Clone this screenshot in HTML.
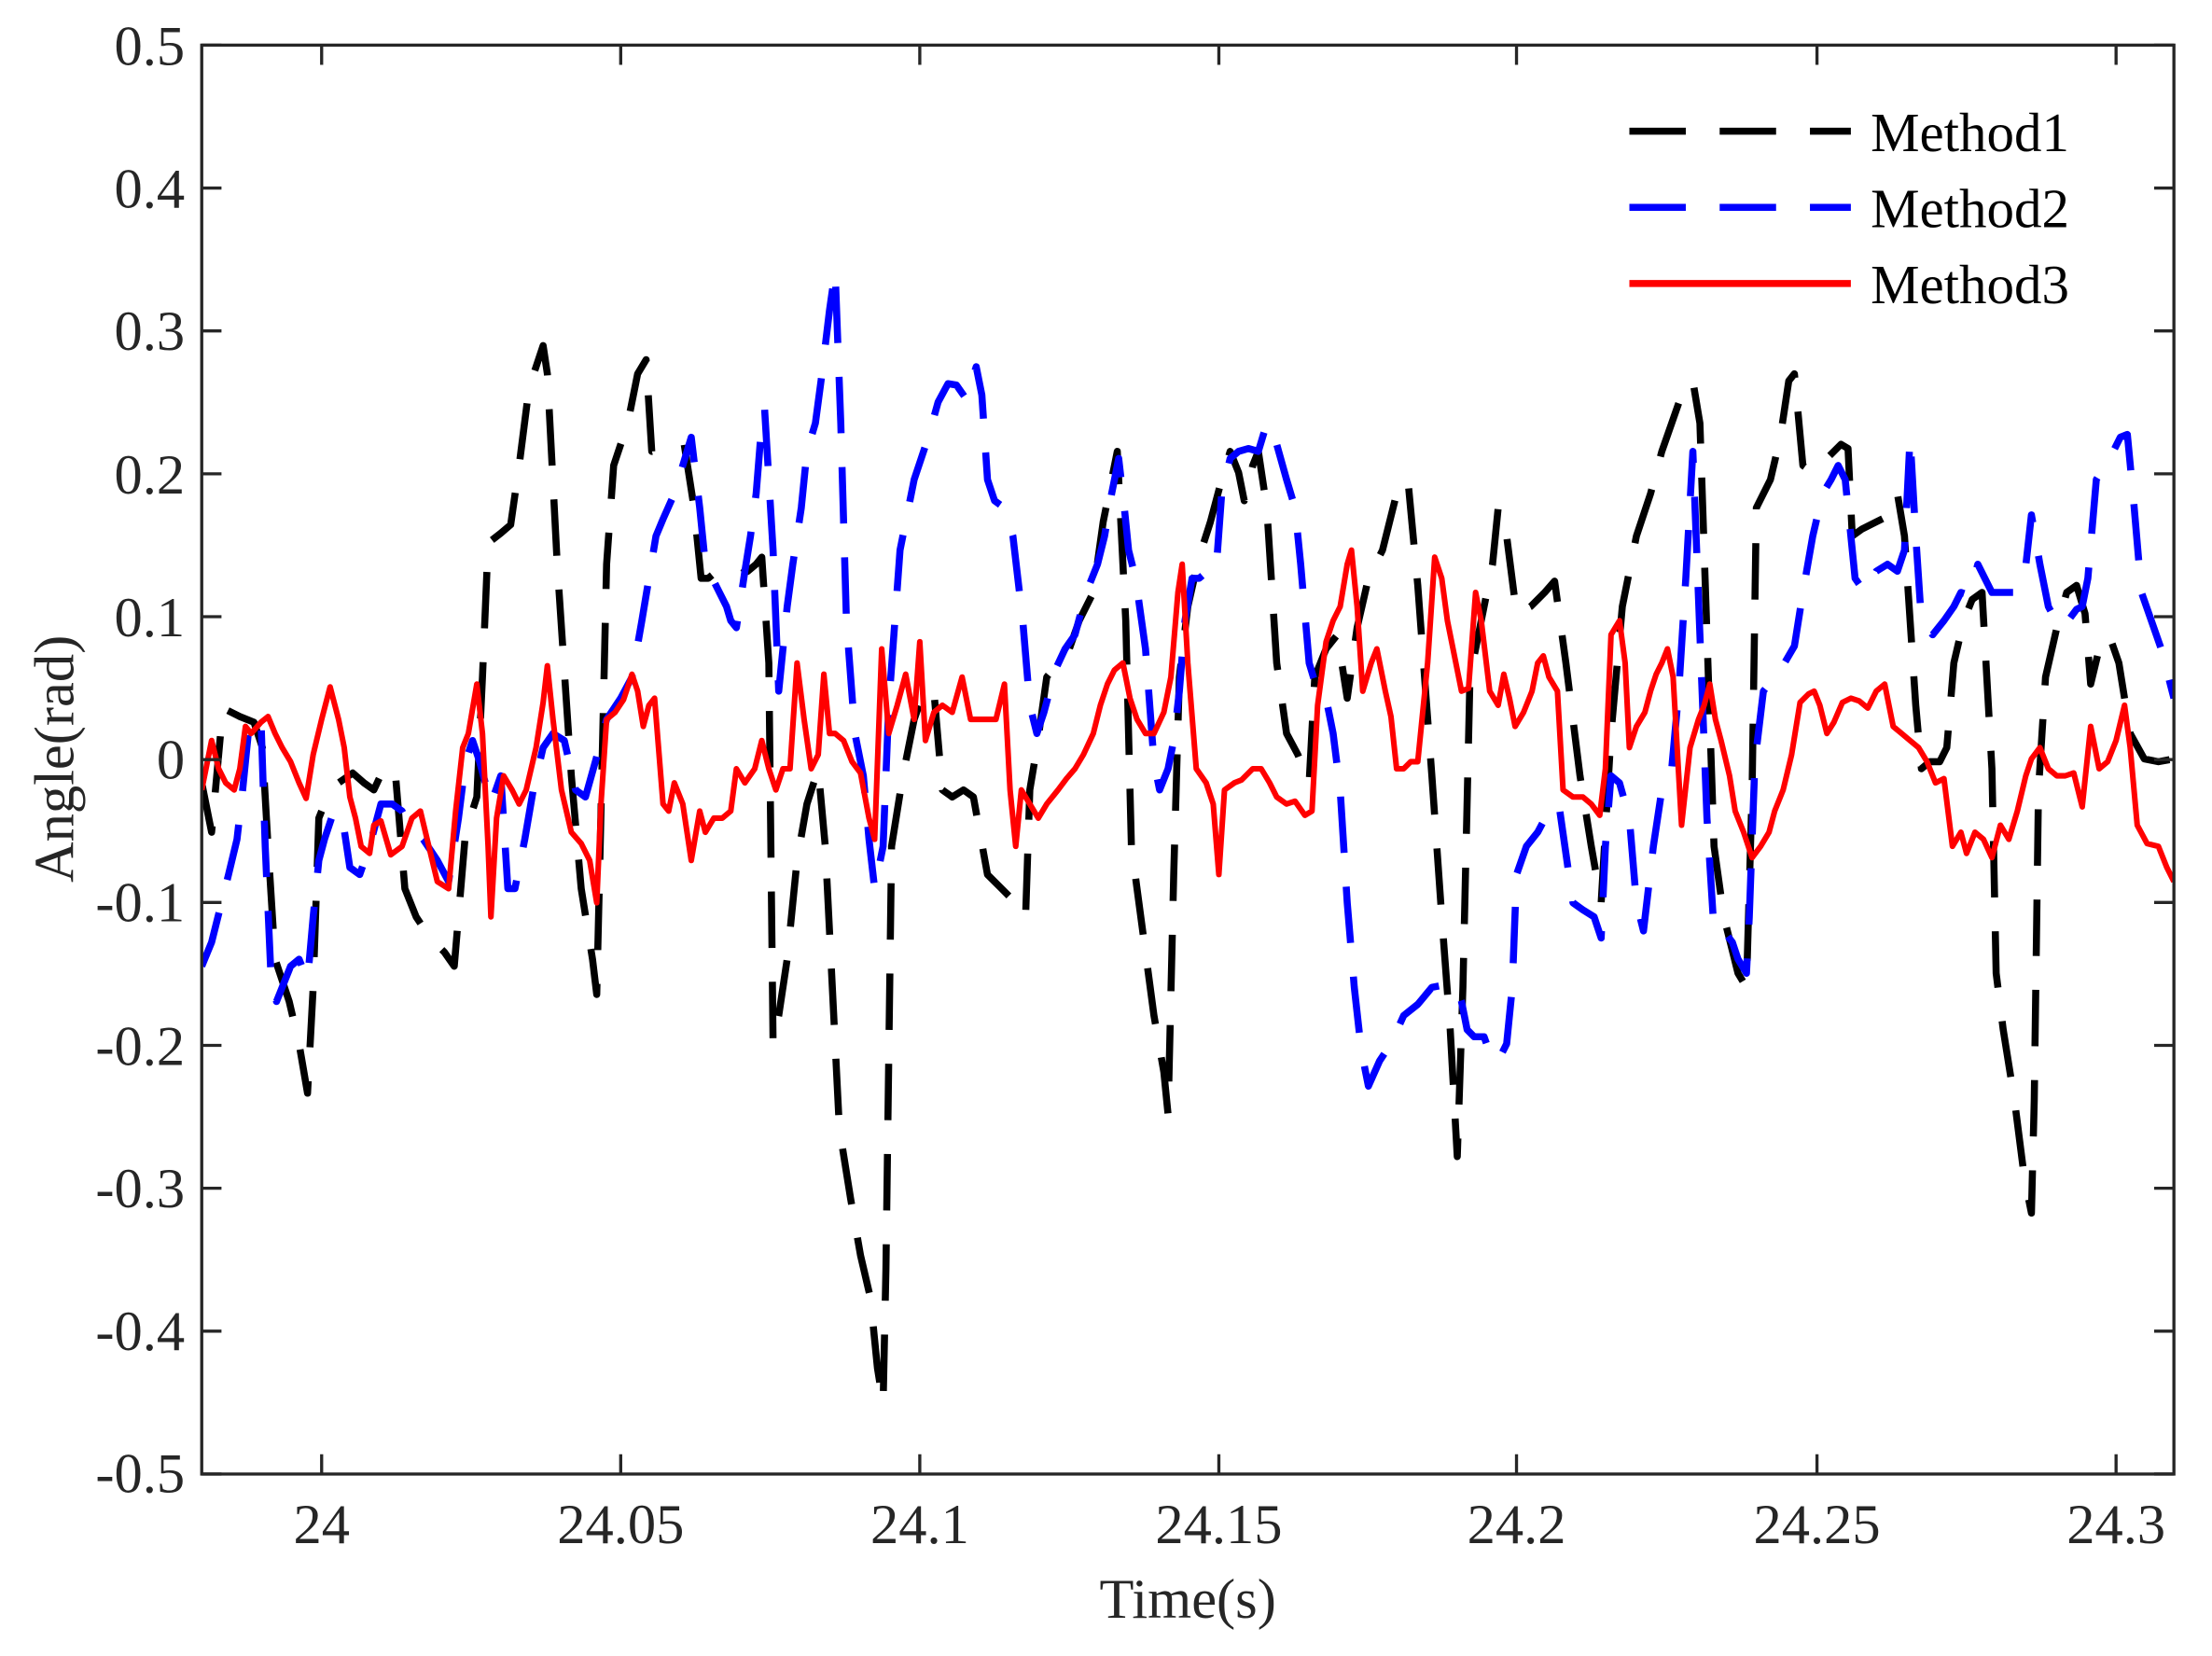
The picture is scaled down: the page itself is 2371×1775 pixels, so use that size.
<!DOCTYPE html>
<html><head><meta charset="utf-8"><style>html,body{margin:0;padding:0;background:#fff}svg{display:block}</style></head>
<body>
<svg width="2371" height="1775" viewBox="0 0 1568 1174" preserveAspectRatio="none" xmlns="http://www.w3.org/2000/svg" font-family="Liberation Serif, serif">
<defs><clipPath id="c"><rect x="143" y="32" width="1398" height="1013"/></clipPath></defs>
<rect width="1568" height="1174" fill="#fff"/>
<g clip-path="url(#c)" fill="none" stroke-width="5" stroke-linejoin="round">
<polyline stroke="#000" stroke-dasharray="40 24" points="143,555 150,590 158,502 170,508 180,512 186,530 190,600 195,680 205,710 212,740 218,775 222,700 226,580 232,565 240,555 250,548 258,555 265,560 272,545 280,545 287,630 295,650 305,665 315,675 322,685 330,590 338,565 342,480 346,385 355,378 362,372 368,330 375,275 385,245 388,265 395,400 405,550 412,630 420,680 423,705 425,620 430,400 435,330 445,300 452,265 458,255 462,320 470,318 478,315 485,315 492,360 497,410 502,410 508,405 515,402 522,400 530,405 536,400 540,395 545,470 548,740 552,720 558,680 565,610 572,570 580,545 585,600 590,700 595,800 603,850 610,890 617,920 622,970 626,995 628,900 632,600 640,550 648,510 655,490 662,490 668,560 675,565 683,560 690,565 700,620 710,630 720,640 727,650 730,560 735,530 742,480 750,470 758,460 765,440 775,420 782,370 788,340 792,320 798,440 802,600 810,660 818,720 825,760 828,790 832,620 836,480 842,430 850,395 858,370 866,340 872,320 878,335 882,355 888,330 892,320 898,360 905,470 912,520 920,535 928,555 932,480 940,460 948,450 955,495 962,445 970,410 980,390 990,350 998,340 1005,415 1015,550 1022,650 1028,730 1033,820 1037,700 1042,480 1050,440 1058,400 1062,360 1068,380 1075,435 1085,430 1095,420 1102,412 1110,470 1120,550 1128,600 1135,640 1142,520 1150,430 1160,380 1170,350 1178,320 1185,300 1192,280 1200,270 1205,300 1210,450 1215,600 1222,650 1232,690 1238,700 1242,560 1245,360 1255,340 1262,310 1268,270 1272,265 1278,330 1285,335 1295,325 1305,315 1310,318 1313,380 1320,375 1330,370 1340,365 1345,350 1350,380 1358,500 1362,545 1368,540 1375,540 1380,530 1385,470 1392,440 1398,425 1405,420 1412,545 1415,690 1420,730 1428,780 1435,835 1440,860 1442,780 1445,560 1450,480 1458,445 1465,420 1472,415 1478,435 1482,485 1488,460 1495,450 1502,470 1510,520 1520,538 1530,540 1541,538"/>
<polyline stroke="#0000ff" stroke-dasharray="40 24" points="143,685 150,668 157,640 162,620 168,595 172,560 176,520 180,520 185,510 188,600 192,690 196,710 200,700 206,685 212,680 218,695 222,650 226,610 230,595 235,580 242,575 248,615 255,620 262,600 270,570 278,570 285,575 292,588 300,595 310,610 318,625 325,580 330,540 335,525 340,540 348,570 355,550 360,630 365,630 372,595 378,560 385,530 392,520 400,525 408,560 415,565 422,540 430,510 440,495 448,480 455,440 460,410 465,380 470,368 478,350 484,330 490,310 496,360 500,400 505,410 510,420 515,430 518,440 522,445 528,405 532,380 536,350 540,300 542,290 548,390 552,490 558,430 562,400 568,360 572,320 578,300 582,270 588,220 592,192 596,300 600,440 606,520 612,550 616,595 620,630 626,600 630,500 638,390 648,340 658,310 665,285 672,272 678,273 685,283 692,260 696,280 700,340 705,355 712,360 718,380 725,440 730,500 735,520 740,505 748,475 755,460 762,450 770,420 778,400 783,380 788,350 793,325 797,360 800,390 805,410 812,460 818,540 822,560 828,545 832,525 836,490 840,440 845,410 850,410 856,405 862,405 866,350 872,325 878,320 885,318 892,320 898,300 905,315 912,340 918,360 922,400 928,470 934,490 940,495 945,520 950,560 955,640 960,700 965,745 970,770 978,752 986,740 995,720 1005,712 1015,700 1025,698 1032,698 1036,710 1040,730 1045,735 1052,735 1058,752 1062,752 1068,740 1072,700 1075,620 1082,600 1090,590 1098,575 1105,570 1110,605 1115,640 1122,645 1130,650 1135,665 1138,600 1142,550 1148,555 1155,580 1160,640 1165,660 1172,600 1178,560 1185,545 1190,490 1195,410 1200,320 1205,450 1210,580 1215,660 1222,660 1228,668 1232,680 1238,690 1240,650 1244,540 1250,490 1258,480 1265,470 1272,458 1278,420 1285,380 1292,350 1298,340 1303,330 1308,340 1315,410 1322,420 1330,405 1338,400 1345,405 1350,390 1354,310 1358,380 1362,440 1370,450 1378,440 1385,430 1390,420 1396,422 1402,400 1407,410 1412,420 1420,420 1428,420 1435,410 1440,365 1446,400 1452,430 1460,445 1466,440 1472,432 1476,430 1480,410 1486,340 1492,330 1498,320 1503,310 1508,308 1512,350 1518,420 1525,440 1532,460 1541,495"/>
<polyline stroke="#ff0000" stroke-width="4" points="143,560 146,545 150,525 155,545 160,555 166,560 170,545 174,515 178,520 185,512 190,508 195,520 200,530 206,540 212,555 217,566 222,535 228,510 234,487 240,510 244,530 248,565 252,580 256,600 262,605 265,585 270,582 277,606 285,600 292,580 298,575 304,600 310,625 318,630 323,575 328,530 332,520 338,485 342,520 346,600 348,650 352,580 357,550 363,560 368,570 373,560 380,530 385,498 388,472 392,510 398,560 405,590 412,598 418,610 423,640 426,570 430,510 436,505 442,496 448,478 452,490 456,515 460,500 464,495 470,570 474,575 478,555 484,570 490,610 496,575 500,590 506,580 512,580 518,575 522,545 528,555 535,545 540,525 545,545 550,560 555,545 560,545 565,470 570,510 575,545 580,535 584,478 588,520 592,520 598,525 604,540 610,548 616,580 620,595 625,460 630,520 636,500 642,478 648,510 652,455 656,525 662,505 668,500 675,505 682,480 688,510 694,510 700,510 706,510 712,485 716,560 720,600 724,560 730,570 736,580 742,570 750,560 756,552 762,545 768,535 775,520 780,500 785,485 790,475 796,470 801,495 806,510 812,520 818,520 825,505 830,480 835,420 838,400 842,470 848,545 855,555 860,570 864,620 868,560 875,555 880,553 888,545 894,545 900,555 905,565 912,570 918,568 925,578 930,575 934,500 940,455 945,440 950,430 955,400 958,390 962,430 966,490 972,470 976,460 982,490 986,508 990,545 995,545 1000,540 1005,540 1012,470 1017,395 1022,410 1026,440 1030,460 1036,490 1041,488 1046,420 1050,440 1056,490 1062,500 1066,478 1070,495 1074,515 1080,505 1086,490 1090,470 1094,465 1098,480 1104,490 1108,560 1115,565 1122,565 1128,570 1134,578 1138,545 1142,450 1148,440 1152,470 1155,530 1160,515 1166,505 1170,490 1174,478 1178,470 1182,460 1186,480 1192,585 1198,530 1204,510 1208,500 1212,485 1216,510 1220,525 1226,550 1230,575 1236,590 1242,608 1248,600 1254,590 1258,575 1264,560 1270,535 1276,498 1282,492 1286,490 1290,500 1295,520 1300,512 1306,498 1312,495 1318,497 1324,502 1330,490 1336,485 1342,515 1348,520 1354,525 1360,530 1366,540 1372,555 1378,552 1384,600 1390,590 1394,605 1400,590 1406,595 1412,608 1418,585 1424,595 1430,575 1436,550 1440,538 1446,530 1452,545 1458,550 1464,550 1470,548 1476,572 1482,515 1488,545 1494,540 1500,525 1506,500 1510,530 1515,585 1522,598 1530,600 1536,615 1541,625"/>
</g>
<g stroke="#262626" stroke-width="2.2" fill="none">
<rect x="143" y="32" width="1398" height="1013"/>
<path d="M228,1045v-14M440,1045v-14M652,1045v-14M864,1045v-14M1075,1045v-14M1288,1045v-14M1500,1045v-14M228,32v14M440,32v14M652,32v14M864,32v14M1075,32v14M1288,32v14M1500,32v14"/>
<path d="M143,32h14M143,133.3h14M143,234.6h14M143,335.9h14M143,437.2h14M143,538.5h14M143,639.8h14M143,741.1h14M143,842.4h14M143,943.7h14M143,1045h14M1541,32h-14M1541,133.3h-14M1541,234.6h-14M1541,335.9h-14M1541,437.2h-14M1541,538.5h-14M1541,639.8h-14M1541,741.1h-14M1541,842.4h-14M1541,943.7h-14M1541,1045h-14"/>
</g>
<g fill="#262626" font-size="40" text-anchor="end">
<text x="131" y="46">0.5</text><text x="131" y="147">0.4</text><text x="131" y="248">0.3</text><text x="131" y="350">0.2</text><text x="131" y="451">0.1</text><text x="131" y="552">0</text><text x="131" y="653">-0.1</text><text x="131" y="755">-0.2</text><text x="131" y="856">-0.3</text><text x="131" y="957">-0.4</text><text x="131" y="1058">-0.5</text>
</g>
<g fill="#262626" font-size="40" text-anchor="middle">
<text x="228" y="1094">24</text><text x="440" y="1094">24.05</text><text x="652" y="1094">24.1</text><text x="864" y="1094">24.15</text><text x="1075" y="1094">24.2</text><text x="1288" y="1094">24.25</text><text x="1500" y="1094">24.3</text>
<text x="842" y="1147" font-size="40">Time(s)</text>
<text transform="translate(52,538) rotate(-90)" font-size="40">Angle(rad)</text>
</g>
<g stroke-width="5">
<line x1="1155" y1="93" x2="1312" y2="93" stroke="#000" stroke-dasharray="40 24"/>
<line x1="1155" y1="147" x2="1312" y2="147" stroke="#0000ff" stroke-dasharray="40 24"/>
<line x1="1155" y1="201" x2="1312" y2="201" stroke="#ff0000"/>
</g>
<g font-size="39" fill="#000">
<text x="1326" y="107">Method1</text><text x="1326" y="161">Method2</text><text x="1326" y="215">Method3</text>
</g>
</svg>
</body></html>
